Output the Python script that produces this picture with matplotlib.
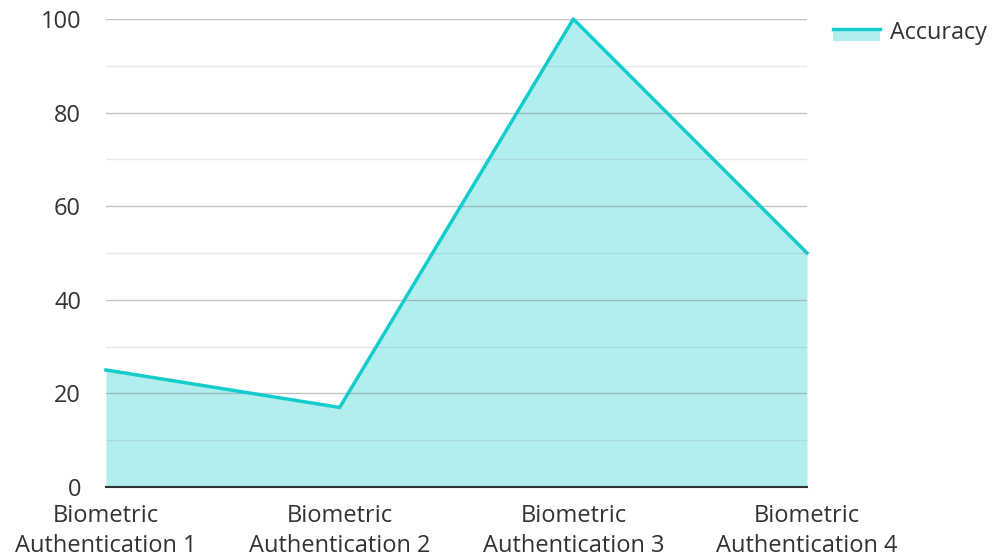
import matplotlib.pyplot as plt
from matplotlib.patches import Rectangle
from matplotlib.lines import Line2D
from matplotlib.legend_handler import HandlerBase

plt.rcParams['font.family'] = ['Open Sans', 'DejaVu Sans']

categories = ['Biometric\nAuthentication 1', 'Biometric\nAuthentication 2',
              'Biometric\nAuthentication 3', 'Biometric\nAuthentication 4']
accuracy = [25, 17, 100, 50]

line_color = '#14CCCC'
fill_color = '#B2EEEE'


class AreaHandler(HandlerBase):
    # filled patch with the line drawn along its top edge
    def create_artists(self, legend, orig_handle, xdescent, ydescent, width, height, fontsize, trans):
        top = height * 0.62
        rect = Rectangle((-xdescent, -ydescent - height * 0.1), width, top + height * 0.1,
                         facecolor=fill_color, edgecolor='none', transform=trans)
        ln = Line2D([-xdescent, -xdescent + width], [top - ydescent] * 2,
                    color=line_color, linewidth=2.5, transform=trans)
        return [rect, ln]


fig = plt.figure(figsize=(9.97, 5.6), dpi=100)
ax = fig.add_axes([106 / 997, 1 - 487 / 560, (807 - 106) / 997, (487 - 19) / 560])

x = list(range(len(categories)))
ax.fill_between(x, accuracy, 0, color=fill_color, linewidth=0, zorder=1)
ax.plot(x, accuracy, color=line_color, linewidth=2.5, zorder=3, clip_on=False)

ax.set_xlim(0, len(categories) - 1)
ax.set_ylim(0, 100)
ax.set_yticks(range(0, 101, 20))
ax.set_yticks(range(10, 100, 20), minor=True)
ax.grid(axis='y', which='major', color='#888888', alpha=0.5, linewidth=1, zorder=2)
ax.grid(axis='y', which='minor', color='#888888', alpha=0.2, linewidth=1, zorder=2)
ax.set_axisbelow(False)

ax.set_xticks(x)
ax.set_xticklabels(categories, fontsize=17, color='#333333', linespacing=1.33)
ax.tick_params(axis='x', length=0, pad=12)
ax.tick_params(axis='y', which='both', length=0, pad=18, labelsize=17, labelcolor='#333333')

for s in ['top', 'right', 'left']:
    ax.spines[s].set_visible(False)
ax.spines['bottom'].set_color('#333333')
ax.spines['bottom'].set_linewidth(1.5)
ax.spines['bottom'].set_zorder(4)

leg = fig.legend([object()], ['Accuracy'], loc='upper left', bbox_to_anchor=(812 / 997, 1 - 0 / 560),
                 frameon=False, fontsize=16.8, handlelength=2.0, handletextpad=0.45,
                 handler_map={object: AreaHandler()})
for t in leg.get_texts():
    t.set_color('#333333')

fig.savefig('out.png', dpi=100)
